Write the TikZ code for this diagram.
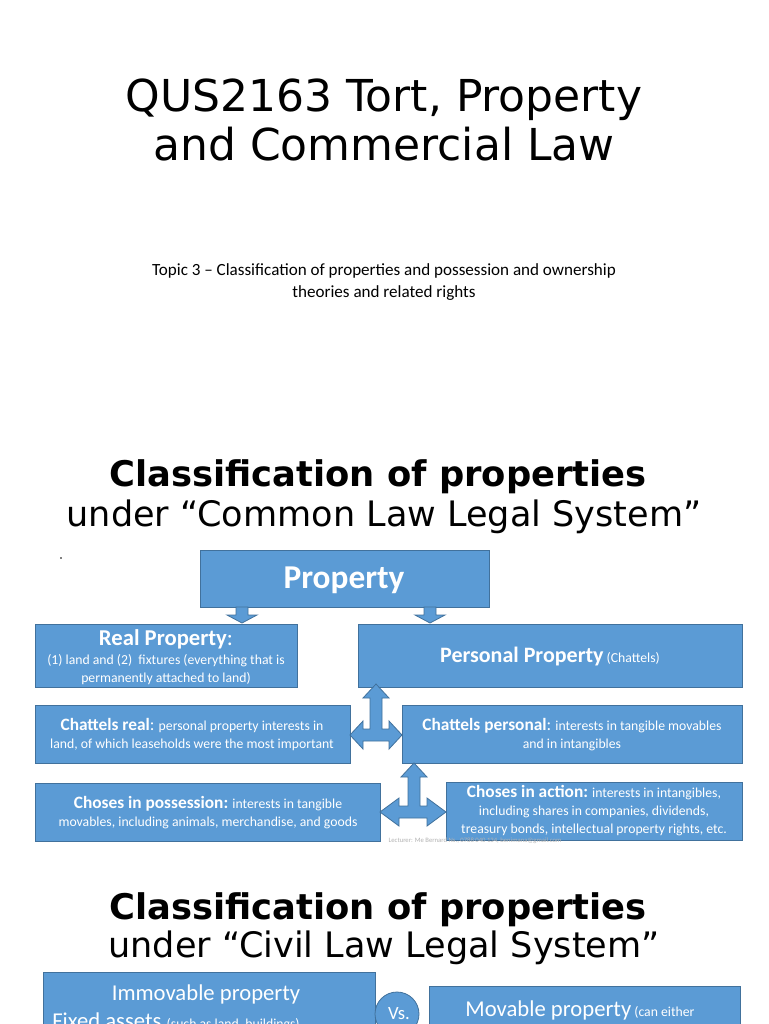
\documentclass[tikz,border=0pt]{standalone}
\usepackage{fontspec}
\setmainfont{Carlito}
\newfontfamily\dv{DejaVu Sans}
\definecolor{boxfill}{HTML}{5B9BD5}
\definecolor{boxline}{HTML}{41719C}
\newcommand\bigsz{\fontsize{17}{19}\selectfont}
\newcommand\midsz{\fontsize{13}{14}\selectfont}
\newcommand\smsz{\fontsize{10.3}{13.5}\selectfont}
\begin{document}
\begin{tikzpicture}[x=0.75pt,y=-0.75pt,
  bx/.style={draw=boxline,fill=boxfill,line width=0.6pt},
  wt/.style={text=white,align=center,inner sep=0pt},
  ar/.style={draw=boxline,fill=boxfill,line width=0.6pt}]
\useasboundingbox (0,0) rectangle (768,1024);
\clip (0,0) rectangle (768,1024);
\fill[white] (0,0) rectangle (768,1024);
% slide 1
\node[align=center,font=\dv\fontsize{33}{37}\selectfont] (t1) at (384,120) {QUS2163 Tort, Property\\and Commercial Law};
\node[align=center,font=\fontsize{12.8}{16}\selectfont] (t2) at (384,282) {Topic 3 – Classification of properties and possession and ownership\\theories and related rights};
% slide 2
\node[font=\dv\bfseries\fontsize{26.5}{30}\selectfont] (h1) at (378,477) {Classification of properties};
\node[font=\dv\fontsize{26.3}{30}\selectfont] (h2) at (384,517) {under “Common Law Legal System”};
\fill (61,558) circle (0.9);
\draw[bx] (200,550) rectangle (489,607);
\node[wt,font=\bfseries\fontsize{25}{30}\selectfont] (prop) at (344,580) {Property};
\draw[ar] (236,607)--(248,607)--(248,615)--(257,615)--(242,623)--(227,615)--(236,615)--cycle;
\draw[ar] (424,607)--(436,607)--(436,615)--(445,615)--(430,623)--(415,615)--(424,615)--cycle;
\draw[bx] (35,624) rectangle (297,687);
\node[wt,font=\bigsz] (real) at (166,639) {\textbf{Real Property}:};
\node[wt,font=\smsz] (real2) at (166,670) {(1) land and (2)\ \ fixtures (everything that is\\permanently attached to land)};
\draw[bx] (358,624) rectangle (742,687);
\node[wt] (pers) at (550,657) {{\bfseries\fontsize{16.5}{19}\selectfont Personal Property} {\fontsize{10.3}{12}\selectfont (Chattels)}};
\draw[bx] (35,705) rectangle (350,763);
\node[wt,font=\smsz] (cr) at (192,735) {{\midsz\textbf{Chattels real}:} personal property interests in\\land, of which leaseholds were the most important};
\draw[bx] (402,705) rectangle (742,763);
\node[wt,font=\smsz] (cp) at (572,735) {{\midsz\textbf{Chattels personal}:} interests in tangible movables\\and in intangibles};
\draw[ar] (376,684)--(389,698)--(382,698)--(382,729)--(389,729)--(389,721)--(402,735)--(389,749)--(389,741)--(363,741)--(363,749)--(350,735)--(363,721)--(363,729)--(370,729)--(370,698)--(363,698)--cycle;
\draw[bx] (35,783) rectangle (380,841);
\node[wt,font=\smsz] (cip) at (208,813) {{\midsz\textbf{Choses in possession:}} interests in tangible\\movables, including animals, merchandise, and goods};
\draw[bx] (446,782) rectangle (742,840);
\node[wt,font=\smsz] (cia) at (594,811) {{\midsz\textbf{Choses in action:}} interests in intangibles,\\including shares in companies, dividends,\\treasury bonds, intellectual property rights, etc.};
\draw[ar] (414,763)--(427,777)--(420,777)--(420,806)--(427,806)--(427,798)--(446,812)--(427,826)--(427,818)--(399,818)--(399,826)--(380,812)--(399,798)--(399,806)--(408,806)--(408,777)--(401,777)--cycle;
\node[text=gray!60,font=\fontsize{5}{6}\selectfont] (ft) at (475,841) {Lecturer: Me Bernard Ns., 0788 040 134, benimana@gmail.com};
% slide 3
\node[font=\dv\bfseries\fontsize{26.5}{30}\selectfont] (h3) at (378,910) {Classification of properties};
\node[font=\dv\fontsize{26.3}{30}\selectfont] (h4) at (384,948) {under “Civil Law Legal System”};
\draw[bx] (43,972) rectangle (375,1040);
\node[wt,font=\bigsz] (imm) at (206,994) {Immovable property};
\node[wt,anchor=west,font=\bigsz] (fa) at (52,1022) {Fixed assets {\smsz (such as land, buildings)}};
\draw[bx] (397,1014) circle (22);
\node[wt,font=\fontsize{14}{16}\selectfont] (vs) at (399,1014) {Vs.};
\draw[bx] (429,986) rectangle (740,1040);
\node[wt] (mov) at (580,1010) {{\bigsz Movable property} {\smsz (can either}};
\end{tikzpicture}
\end{document}
